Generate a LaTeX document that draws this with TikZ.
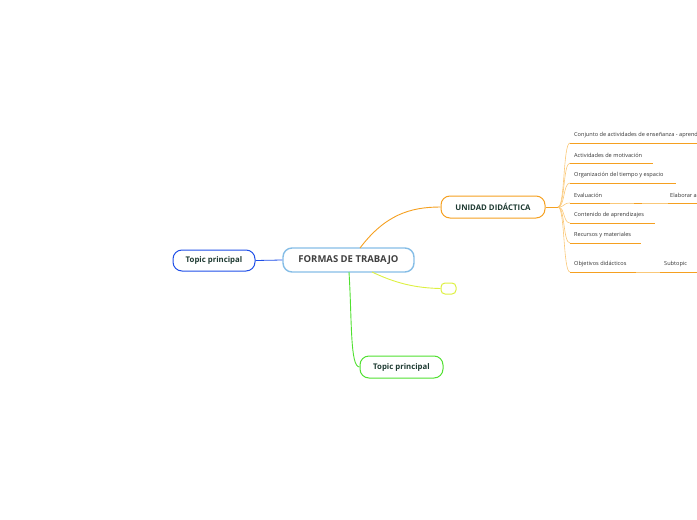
\documentclass[tikz,border=0pt]{standalone}
\usepackage{fontspec}
\setmainfont{Open Sans}
\definecolor{cblue}{HTML}{85BDE6}
\definecolor{dblue}{HTML}{1F4FE8}
\definecolor{corange}{HTML}{F5A020}
\definecolor{lorange}{HTML}{FAC878}
\definecolor{cyel}{HTML}{DDF040}
\definecolor{cgreen}{HTML}{50E030}
\definecolor{ctext}{HTML}{1E3A32}
\begin{document}
\begin{tikzpicture}[x=1pt,y=-1pt,
  topic/.style={draw,rounded corners=9pt,line width=1pt,minimum height=22pt,font=\fontsize{7.8}{9}\selectfont\bfseries,text=ctext,inner xsep=8pt},
  leaf/.style={font=\fontsize{5.6}{6.5}\selectfont,text=black!80,anchor=south west,inner sep=1pt},
  uline/.style={corange,line width=1pt},
  faint/.style={lorange,line width=0.6pt}]
\useasboundingbox (0,0) rectangle (697,520);
\node[topic,draw=cblue,line width=1.4pt,minimum width=131pt,minimum height=24pt,font=\fontsize{9.5}{11}\selectfont\bfseries,text=black!75] (c) at (348.5,260) {FORMAS DE TRABAJO};
\node[topic,draw=dblue,minimum width=82pt,minimum height=21pt] (l) at (214,260.5) {Topic principal};
\node[topic,draw=corange,minimum width=104pt] (u) at (493,207) {UNIDAD DIDÁCTICA};
\node[draw=cyel,line width=1pt,rounded corners=4pt,minimum width=15pt,minimum height=11pt,inner sep=0pt] (y) at (448.5,288.5) {};
\node[topic,draw=cgreen,minimum width=83pt] (g) at (401.5,367) {Topic principal};
\draw[dblue,line width=0.8pt] (l.east) -- (c.west);
\coordinate (c1) at (360,248);
\coordinate (c2) at (372,272);
\coordinate (c3) at (349,272);
\draw[corange,line width=0.9pt] (c1) .. controls (385,215) and (410,207) .. (u.west);
\draw[cyel,line width=0.9pt] (c2) .. controls (395,283) and (415,288) .. (y.west);
\draw[cgreen,line width=0.9pt] (c3) .. controls (352,320) and (350,367) .. (g.west);
\coordinate (hub) at (558,207);
\draw[corange,line width=0.9pt] (u.east) -- (hub);
\foreach \yy/\xe/\txt/\nm in {143/697/{Conjunto de actividades de enseñanza - aprendizaje}/a,163/653/{Actividades de motivación}/b,183/676/{Organización del tiempo y espacio}/c,203/610/{Evaluación}/d,223/655/{Contenido de aprendizajes}/e,243/641/{Recursos y materiales}/f,272/636/{Objetivos didácticos}/h}{
  \coordinate (s\nm) at (570,\yy);
  \coordinate (e\nm) at (\xe,\yy);
  \draw[faint] (hub) .. controls (565,207) and (563,\yy) .. (s\nm);
  \draw[uline] (s\nm) -- (e\nm);
  \node[leaf] at (573,\yy-4) {\txt};
}
\begin{scope}
\clip (0,0) rectangle (697,520);
\coordinate (d1) at (634,203); \coordinate (d2) at (642,203); \coordinate (d3) at (668,203);
\draw[faint] (ed) -- (d1); \draw[uline] (d1) -- (d2); \draw[faint] (d2) -- (d3);
\draw[uline] (d3) -- (697,203);
\node[leaf] at (669,199) {Elaborar actividades};
\coordinate (h1) at (660,272);
\draw[faint] (eh) -- (h1); \draw[uline] (h1) -- (697,272);
\node[leaf] at (663,268) {Subtopic};
\end{scope}
\end{tikzpicture}
\end{document}
